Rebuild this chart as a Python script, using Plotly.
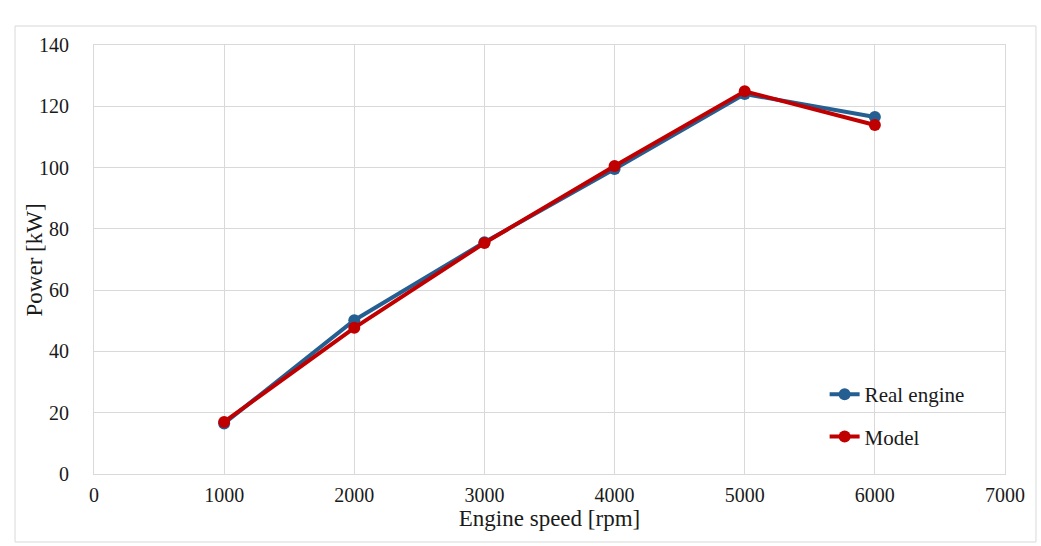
import plotly.graph_objects as go

speed = [1000, 2000, 3000, 4000, 5000, 6000]
real_engine = [16.5, 50.2, 75.6, 99.5, 124.0, 116.5]
model = [17.0, 47.7, 75.4, 100.5, 124.9, 113.9]

BLUE = "#255E91"
RED = "#C00000"
FONT = "Liberation Serif"

fig = go.Figure()
fig.add_trace(go.Scatter(x=speed, y=real_engine, name="Real engine", mode="lines+markers",
                         line=dict(color=BLUE, width=4), marker=dict(color=BLUE, size=12),
                         legendgroup="a"))
fig.add_trace(go.Scatter(x=speed, y=model, name="Model", mode="lines+markers",
                         line=dict(color=RED, width=4), marker=dict(color=RED, size=12),
                         legendgroup="b"))

fig.update_layout(
    width=1041, height=546,
    margin=dict(l=94, r=36, t=45, b=72),
    paper_bgcolor="white", plot_bgcolor="white",
    font=dict(family=FONT, size=20, color="#1a1a1a"),
    xaxis=dict(range=[0, 7000], dtick=1000, showgrid=True, gridcolor="#D9D9D9", gridwidth=1,
               zeroline=False, showline=True, linecolor="#D9D9D9", mirror=True,
               ticks="", tickfont=dict(size=20, family=FONT), ticklabelstandoff=3,
               title=dict(text="Engine speed [rpm]", font=dict(size=23, family=FONT), standoff=0)),
    yaxis=dict(range=[0, 140], dtick=20, showgrid=True, gridcolor="#D9D9D9", gridwidth=1,
               zeroline=False, showline=True, linecolor="#D9D9D9", mirror=True,
               ticks="", tickfont=dict(size=20, family=FONT), ticklabelstandoff=20),
    legend=dict(x=0.802, y=0.233, xanchor="left", yanchor="top", bgcolor="rgba(0,0,0,0)",
                font=dict(size=21, family=FONT, color="#1a1a1a"),
                traceorder="grouped", tracegroupgap=12),
    showlegend=True,
)

fig.add_annotation(text="Power [kW]", xref="paper", yref="paper", x=-0.0648, y=0.5,
                   textangle=-90, showarrow=False, xanchor="center", yanchor="middle",
                   font=dict(size=23, family=FONT, color="#1a1a1a"))

fig.add_shape(type="rect", xref="paper", yref="paper",
              x0=-0.0867, x1=1.034, y0=-0.1585, y1=1.0443,
              line=dict(color="#D9D9D9", width=1), fillcolor="rgba(0,0,0,0)", layer="below")

fig.write_html("out.html")
